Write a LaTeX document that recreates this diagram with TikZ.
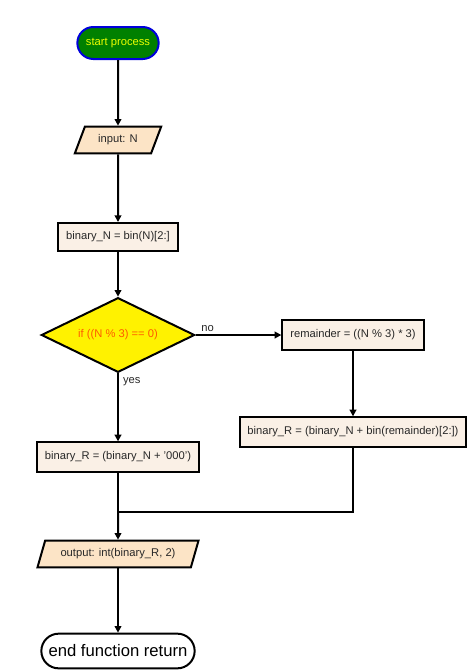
\documentclass[tikz,border=0pt]{standalone}
\usepackage{fontspec}
\setmainfont{Liberation Sans}
\usepackage{tikz}
\usetikzlibrary{arrows.meta,shapes.geometric,calc}
\definecolor{flowGreen}{RGB}{0,128,0}
\definecolor{flowBlue}{RGB}{0,0,220}
\definecolor{flowYellow}{RGB}{235,255,0}
\definecolor{flowOrange}{RGB}{255,90,0}
\definecolor{flowText}{RGB}{40,40,40}
\definecolor{procFill}{RGB}{250,240,230}
\definecolor{ioFill}{RGB}{252,228,198}

\begin{document}
\begin{tikzpicture}[x=0.75pt, y=-0.75pt,
    font=\fontsize{8.4}{10}\selectfont,
    every node/.style={line width=1.5pt, inner sep=0pt, text=flowText},
    procbox/.style={draw, fill=procFill, rectangle},
    iobox/.style={draw, fill=ioFill, trapezium, trapezium left angle=60,
      trapezium right angle=120, trapezium stretches=true},
    flow/.style={line width=1.5pt, -{Triangle[length=5pt, width=5pt]}},
    flowline/.style={line width=1.5pt}]
    \useasboundingbox (0,0) rectangle (474,672);

    % start and input
    \node[draw=flowBlue, fill=flowGreen, text=flowYellow, rounded corners=12pt,
      minimum width=61pt, minimum height=24pt] (start) at (118,43) {start process};
    \node[iobox, minimum width=65pt, minimum height=20pt] (input) at (118,140) {input: N};
    \node[procbox, minimum width=90pt, minimum height=21pt] (binN) at (118,237) {binary\_N = bin(N)[2:]};

    % the test
    \node[draw, fill=yellow, diamond, aspect=2.2, text=flowOrange, minimum width=115pt,
      minimum height=56pt] (cond) at (118,335) {if ((N \% 3) == 0)};

    % no branch
    \node[procbox, minimum width=106pt, minimum height=22pt] (rem) at (353,335) {remainder = ((N \% 3) * 3)};
    \node[procbox, minimum width=170pt, minimum height=22pt] (binRrem) at (353,432) {binary\_R = (binary\_N + bin(remainder)[2:])};

    % yes branch
    \node[procbox, minimum width=122pt, minimum height=22pt] (binRzero) at (118,457) {binary\_R = (binary\_N + '000')};

    % output and end
    \coordinate (merge) at (118,512);
    \node[iobox, minimum width=122pt, minimum height=20pt] (output) at (118,554) {output: int(binary\_R, 2)};
    \node[draw, fill=white, rounded corners=13pt, minimum width=115pt, minimum height=26pt,
      font=\fontsize{12.5}{14}\selectfont, text=black] (stop) at (118,651) {end function return};

    % connectors
    \draw[flow] (start) -- (input);
    \draw[flow] (input) -- (binN);
    \draw[flow] (binN) -- (cond);
    \draw[flow] (cond) -- node[pos=0.14, above=2pt] (lblNo) {no} (rem);
    \draw[flow] (cond) -- node[pos=0.12, right=3pt] (lblYes) {yes} (binRzero);
    \draw[flow] (rem) -- (binRrem);
    \draw[flowline] (binRzero) -- (merge);
    \draw[flowline] (binRrem) |- (merge);
    \draw[flow] (merge) -- (output);
    \draw[flow] (output) -- (stop);
\end{tikzpicture}
\end{document}
